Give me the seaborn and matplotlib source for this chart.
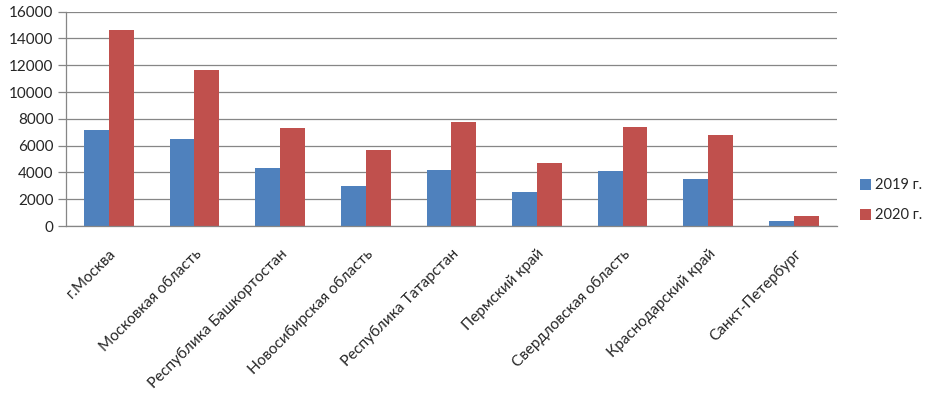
import pandas as pd
import matplotlib
matplotlib.use("Agg")
import matplotlib.pyplot as plt
import seaborn as sns

# Данные по регионам
regions = ["г.Москва", "Московкая область", "Республика Башкортостан",
           "Новосибирская область", "Республика Татарстан", "Пермский край",
           "Свердловская область", "Краснодарский край", "Санкт-Петербург"]
values_2019 = [7160, 6490, 4330, 2990, 4180, 2540, 4100, 3510, 370]
values_2020 = [14620, 11640, 7310, 5670, 7760, 4700, 7390, 6790, 750]
series_names = ["2019 г.", "2020 г."]
yticks = list(range(0, 16001, 2000))

df = pd.DataFrame({"region": regions, series_names[0]: values_2019, series_names[1]: values_2020})
df = df.melt(id_vars="region", var_name="year", value_name="value")

sns.set_style("white")
plt.rcParams["font.family"] = ["Lato", "DejaVu Sans"]

fig, ax = plt.subplots(figsize=(9.27, 4.0), dpi=100)
fig.subplots_adjust(left=0.0712, right=0.9026, top=0.971, bottom=0.435)

sns.barplot(data=df, x="region", y="value", hue="year", ax=ax,
            palette=["#4F81BD", "#C0504D"], width=0.58, saturation=1,
            edgecolor="none", linewidth=0)

grid_c = "#868686"
ax.set_ylim(0, 16000)
ax.set_xlim(-0.5, len(regions) - 0.5)
ax.set_yticks(yticks)
ax.set_yticklabels([str(t) for t in yticks], fontsize=11)
ax.yaxis.grid(True, color=grid_c, linewidth=0.9)
ax.set_axisbelow(True)
ax.set_xlabel("")
ax.set_ylabel("")

# подписи категорий под углом
ax.set_xticks(range(len(regions)))
ax.set_xticklabels(regions, rotation=45, ha="right", va="top",
                   rotation_mode="anchor", fontsize=11)
ax.tick_params(axis="x", which="major", length=0, pad=15)
ax.set_xticks([i - 0.5 for i in range(len(regions) + 1)], minor=True)
ax.tick_params(axis="x", which="minor", length=5, color=grid_c, width=0.9, direction="out")
ax.tick_params(axis="y", length=6, color=grid_c, width=0.9, pad=3, left=True)

for s in ["top", "right"]:
    ax.spines[s].set_visible(False)
for s in ["left", "bottom"]:
    ax.spines[s].set_color(grid_c)
    ax.spines[s].set_linewidth(0.9)

ax.legend(title=None, frameon=False, loc="center left",
          bbox_to_anchor=(1.0, 0.12), borderaxespad=1.4, borderpad=0.2, fontsize=10.5,
          handlelength=0.75, handleheight=0.75, handletextpad=0.3, labelspacing=1.1)

plt.savefig("out.png", dpi=100)
